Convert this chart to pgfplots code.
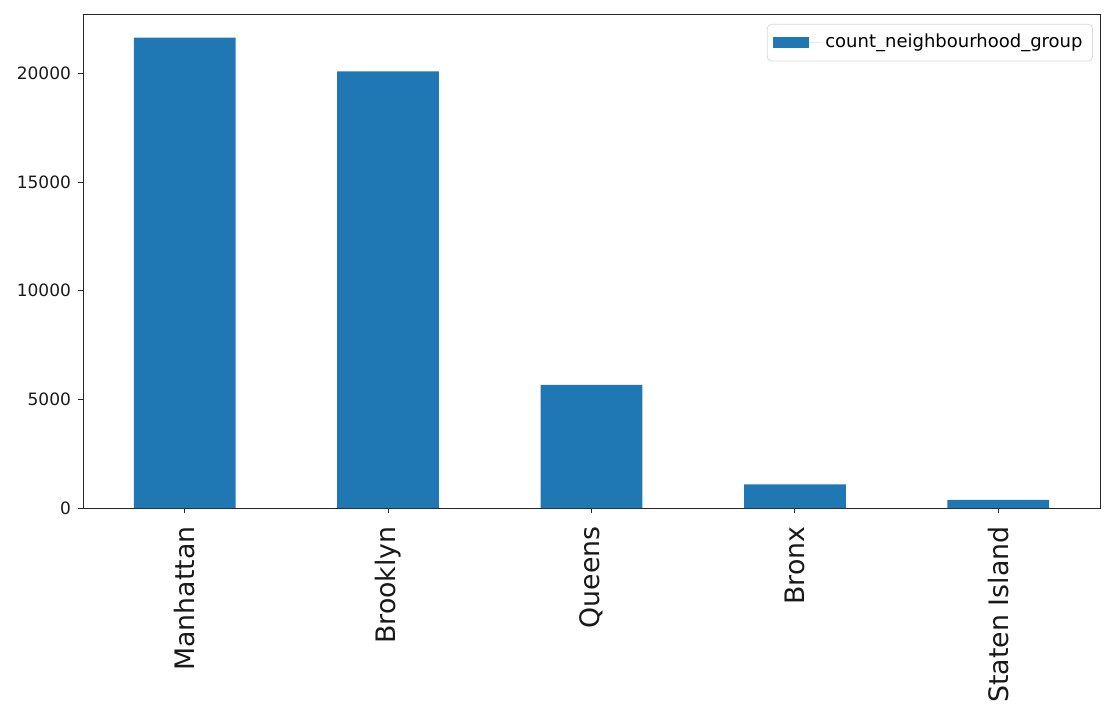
\documentclass[border=0pt]{standalone}
\usepackage{pgfplots}
\pgfplotsset{compat=1.18}
\usepackage{fontspec}
\setmainfont{DejaVu Sans}
\definecolor{mplblue}{HTML}{1F77B4}
\begin{document}
\begin{tikzpicture}
\begin{axis}[
  name=ax,
  scale only axis,
  width=508.5pt, height=247pt,
  xmin=-0.5, xmax=4.5, ymin=0, ymax=22744,
  ybar, bar width=0.5,
  axis line style={black!85, line width=0.45pt},
  xtick={0,1,2,3,4},
  xticklabels={Manhattan,Brooklyn,Queens,Bronx,Staten Island},
  x tick label style={rotate=90, anchor=east, font=\fontsize{13.4}{15}\selectfont, inner sep=6.5pt, text=black!90},
  ytick={0,5000,10000,15000,20000},
  y tick label style={font=\fontsize{8.5}{10}\selectfont, text=black!90},
  scaled y ticks=false,
  /pgf/number format/1000 sep={},
  /pgf/number format/assume math mode=true,
  tick align=outside,
  xtick pos=bottom, ytick pos=left,
  major tick length=2.5pt,
  tick style={black!85, line width=0.45pt},
  legend style={at={(0.993,0.98)}, anchor=north east, draw=black!15, rounded corners=2pt,
    font=\fontsize{9}{11}\selectfont, inner xsep=3pt, inner ysep=3pt, cells={anchor=west},
    legend cell align=left},
  legend image code/.code={\fill[mplblue, sharp corners] (0pt,-2.7pt) rectangle (18pt,2.7pt);
    \path (0pt,0pt) -- (24pt,0pt);},
  clip=false,
]
\addplot[fill=mplblue, draw=none, bar shift=0pt] coordinates {(0,21661) (1,20104) (2,5666) (3,1091) (4,373)};
\addlegendentry{count\_neighbourhood\_group}
\end{axis}
\pgfresetboundingbox
\path[use as bounding box] ([xshift=-41.5pt,yshift=-103pt]ax.south west) rectangle ([xshift=5pt,yshift=7pt]ax.north east);
\end{tikzpicture}
\end{document}
